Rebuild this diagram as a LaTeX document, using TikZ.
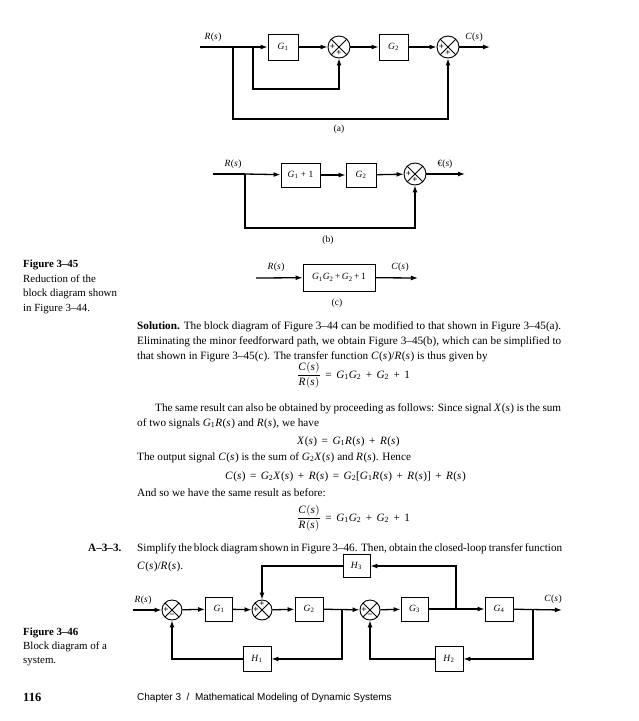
\documentclass[tikz,border=0pt]{standalone}
\usepackage{fontspec}
\setmainfont{Liberation Serif}
\newfontfamily\sansf{Liberation Sans}
\usetikzlibrary{arrows.meta}
\newcommand\vi[1]{\textit{#1}}
\newcommand\Cs{\vi{C}\kern0.5pt(\vi{s}\kern0.5pt)}
\newcommand\Rs{\vi{R}\kern0.5pt(\vi{s}\kern0.5pt)}
\newcommand\Xs{\vi{X}\kern0.5pt(\vi{s}\kern0.5pt)}
\newcommand\Gi[1]{\vi{G}\textsubscript{#1}}
\newcommand\Hi[1]{\vi{H}\textsubscript{#1}}
\newcommand\op[1]{\hspace{4.5pt}#1\hspace{4.5pt}}
\newcommand\jl[2]{\hbox to #1{#2}}
\begin{document}
\begin{tikzpicture}[x=1pt,y=-1pt,
 blk/.style={draw,line width=0.9pt,inner sep=0pt,font=\fontsize{9.5}{10}\selectfont},
 sumj/.style={draw,circle,line width=0.9pt,inner sep=0pt,minimum size=22pt,
   path picture={\draw[line width=0.8pt] (path picture bounding box.north west)--(path picture bounding box.south east)
   (path picture bounding box.north east)--(path picture bounding box.south west);}},
 sgn/.style={font=\bfseries\fontsize{9}{9}\selectfont,inner sep=0pt},
 lab/.style={font=\fontsize{9.5}{10}\selectfont,inner sep=0pt},
 sig/.style={line width=1.3pt,-{Latex[length=7pt,width=5pt]}},
 wire/.style={line width=1.3pt},
 body/.style={anchor=base west,inner sep=0pt,font=\fontsize{11.2}{13}\selectfont},
 captxt/.style={anchor=base west,inner sep=0pt,font=\fontsize{10.9}{12}\selectfont},
]
\useasboundingbox (0,0) rectangle (638,721);
\fill[white] (0,0) rectangle (638,721);

% ---------- Figure 3-45 (a) ----------
\node[blk,minimum width=30pt,minimum height=26pt] (ag1) at (283,47) {\Gi1};
\node[sumj] (as1) at (339,47) {};
\node[blk,minimum width=29pt,minimum height=26pt] (ag2) at (393.5,47) {\Gi2};
\node[sumj] (as2) at (448,47) {};
\node[sgn] at ([xshift=-6.5pt]as1.center) {+};
\node[sgn] at ([yshift=-6pt]as1.center) {+};
\node[sgn] at ([xshift=-6.5pt]as2.center) {+};
\node[sgn] at ([yshift=-6pt]as2.center) {+};
\coordinate (ain) at (200,47);
\coordinate (aout) at (490,47);
\coordinate (ab2) at (233,47);
\coordinate (ab1) at (253,47);
\coordinate (ac1) at (253,89);
\coordinate (ac2) at (233,119);
\draw[wire] (ain) -- (ab1);
\draw[sig] (ab1) -- (ag1);
\draw[sig] (ag1) -- (as1);
\draw[sig] (as1) -- (ag2);
\draw[sig] (ag2) -- (as2);
\draw[sig] (as2) -- (aout);
\draw[sig] (ab1) -- (ac1) -| (as1);
\draw[sig] (ab2) -- (ac2) -| (as2);
\node[lab] (ar) at (213,37) {\Rs};
\node[lab] (ac) at (474,37) {\Cs};
\node[lab] (alab) at (339,129) {(a)};

% ---------- Figure 3-45 (b) ----------
\node[blk,minimum width=39pt,minimum height=24pt] (bg1) at (300.5,175) {\Gi1 + 1};
\node[blk,minimum width=30pt,minimum height=24pt] (bg2) at (361,175) {\Gi2};
\node[sumj] (bs) at (415,174) {};
\node[sgn] at ([xshift=-6.5pt]bs.center) {+};
\node[sgn] at ([yshift=-6pt]bs.center) {+};
\coordinate (bin) at (213,174);
\coordinate (bout) at (465,174);
\coordinate (bb) at (245,174);
\coordinate (bc) at (245,228);
\draw[wire] (bin) -- (bb);
\draw[sig] (bb) -- (bg1);
\draw[sig] (bg1) -- (bg2);
\draw[sig] (bg2) -- (bs);
\draw[sig] (bs) -- (bout);
\draw[sig] (bb) -- (bc) -| (bs);
\node[lab] (br) at (233,164) {\Rs};
\node[lab] (be) at (445,164) {€(\vi{s})};
\node[lab] (blab) at (328,240) {(b)};

% ---------- Figure 3-45 (c) ----------
\node[blk,minimum width=72pt,minimum height=27pt] (cg) at (339,277.5) {\Gi1\Gi2\,+\,\Gi2\,+\,1};
\coordinate (cin) at (256,278);
\coordinate (cout) at (418,278);
\draw[sig] (cin) -- (cg);
\draw[sig] (cg) -- (cout);
\node[lab] (cr) at (276,267) {\Rs};
\node[lab] (cc) at (400,267) {\Cs};
\node[lab] (clab) at (337,303) {(c)};

% caption 3-45
\node[captxt] (k1) at (23,267) {\textbf{Figure 3–45}};
\node[captxt] (k2) at (23,282) {Reduction of the};
\node[captxt] (k3) at (23,296) {block diagram shown};
\node[captxt] (k4) at (23,311) {in Figure 3–44.};

% ---------- body text ----------
\node[body] (t1) at (137,329) {\jl{424pt}{\textbf{Solution.} The block diagram of Figure 3–44 can be modified to that shown in Figure 3–45(a).}};
\node[body] (t2) at (137,344) {\jl{424pt}{Eliminating the minor feedforward path, we obtain Figure 3–45(b), which can be simplified to}};
\node[body] (t3) at (137,359) {that shown in Figure 3–45(c). The transfer function \Cs/\Rs{} is thus given by};
\node[body] (e1) at (297,378) {$\displaystyle\frac{\Cs}{\Rs}$\op{=}\Gi1\Gi2\op{+}\Gi2\op{+}1};
\node[body] (t4) at (155,411) {\jl{406pt}{The same result can also be obtained by proceeding as follows: Since signal \Xs{} is the sum}};
\node[body] (t5) at (137,426) {of two signals \Gi1\Rs{} and \Rs, we have};
\node[body] (e2) at (297,444) {\Xs\op{=}\Gi1\Rs\op{+}\Rs};
\node[body] (t6) at (137,460) {The output signal \Cs{} is the sum of \Gi2\Xs{} and \Rs. Hence};
\node[body] (e3) at (225,479) {\Cs\op{=}\Gi2\Xs\op{+}\Rs\op{=}\Gi2[\Gi1\Rs\op{+}\Rs]\op{+}\Rs};
\node[body] (t7) at (137,496) {And so we have the same result as before:};
\node[body] (e4) at (297,521) {$\displaystyle\frac{\Cs}{\Rs}$\op{=}\Gi1\Gi2\op{+}\Gi2\op{+}1};
\node[body] (t8a) at (88,551) {\textbf{A–3–3.}};
\node[body] (t8) at (137,551) {\jl{425pt}{Simplify the block diagram shown in Figure 3–46. Then, obtain the closed-loop transfer function}};
\node[body] (t9) at (137,569) {\Cs/\Rs.};

% ---------- Figure 3-46 ----------
\tikzset{sumk/.style={sumj,minimum size=20pt}}
\node[sumk] (sa) at (172,610) {};
\node[blk,minimum width=27pt,minimum height=24pt] (g1) at (219,609) {\Gi1};
\node[sumk] (sb) at (262,610) {};
\node[blk,minimum width=28pt,minimum height=24pt] (g2) at (309,609) {\Gi2};
\node[sumk] (sc) at (370,610) {};
\node[blk,minimum width=27pt,minimum height=24pt] (g3) at (414.5,609) {\Gi3};
\node[blk,minimum width=28pt,minimum height=24pt] (g4) at (499,609) {\Gi4};
\node[blk,minimum width=28pt,minimum height=25pt] (h1) at (257,659) {\Hi1};
\node[blk,minimum width=28pt,minimum height=25pt] (h2) at (449,659) {\Hi2};
\node[blk,minimum width=27pt,minimum height=23pt] (h3) at (356.5,566) {\Hi3};
\node[sgn] at ([xshift=-6pt]sa.center) {+};
\node[sgn] at ([yshift=-6pt]sa.center) {−};
\node[sgn] at ([xshift=-6pt]sb.center) {+};
\node[sgn] at ([yshift=6pt]sb.center) {+};
\node[sgn] at ([xshift=-6pt]sc.center) {+};
\node[sgn] at ([yshift=-6pt]sc.center) {−};
\coordinate (din) at (133,610);
\coordinate (dout) at (562,610);
\coordinate (d1) at (342,610);
\coordinate (d1b) at (342,659);
\coordinate (d3) at (456,610);
\coordinate (d3t) at (456,566);
\coordinate (d3l) at (262,566);
\coordinate (d2) at (533,610);
\coordinate (d2b) at (533,659);
\coordinate (dha) at (172,659);
\coordinate (dhc) at (370,659);
\draw[sig] (din) -- (sa);
\draw[sig] (sa) -- (g1);
\draw[sig] (g1) -- (sb);
\draw[sig] (sb) -- (g2);
\draw[sig] (g2) -- (sc);
\draw[sig] (sc) -- (g3);
\draw[sig] (g3) -- (g4);
\draw[sig] (g4) -- (dout);
\draw[sig] (d1) -- (d1b) -- (h1);
\draw[sig] (h1) -- (dha) -- (sa);
\draw[sig] (d3) -- (d3t) -- (h3);
\draw[sig] (h3) -- (d3l) -- (sb);
\draw[sig] (d2) -- (d2b) -- (h2);
\draw[sig] (h2) -- (dhc) -- (sc);
\node[lab] (dr) at (143,600) {\Rs};
\node[lab] (dc) at (553,599) {\Cs};

% caption 3-46 and footer
\node[captxt] (m1) at (23,635) {\textbf{Figure 3–46}};
\node[captxt] (m2) at (23,649) {Block diagram of a};
\node[captxt] (m3) at (23,663) {system.};
\node[captxt,font=\fontsize{12.5}{13}\selectfont] (pg) at (23,701) {\textbf{116}};
\node[captxt,font=\sansf\fontsize{10}{11}\selectfont] (ft) at (137,700) {Chapter 3~~/~~Mathematical Modeling of Dynamic Systems};
\end{tikzpicture}
\end{document}
